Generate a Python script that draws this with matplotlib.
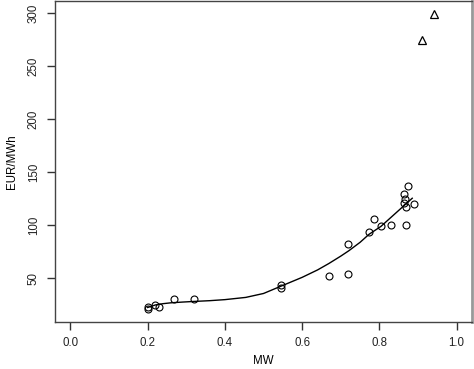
import matplotlib
matplotlib.use('Agg')
import matplotlib.pyplot as plt

plt.rcParams.update({
    'font.family': ['Liberation Sans', 'DejaVu Sans'],
    'font.size': 8.3,
})

# observed points (circles)
mw_obs = [0.200, 0.200, 0.219, 0.229, 0.267, 0.319, 0.544, 0.544,
          0.669, 0.718, 0.718, 0.773, 0.787, 0.804, 0.831, 0.868,
          0.869, 0.864, 0.866, 0.864, 0.874, 0.889]
eur_obs = [21.1, 22.8, 24.9, 23.0, 30.6, 30.6, 43.6, 40.8,
           52.2, 54.5, 82.1, 94.1, 106.0, 99.1, 100.0, 100.0,
           117.0, 120.8, 124.5, 129.6, 136.8, 120.2]

# outliers (triangles)
mw_out = [0.909, 0.941]
eur_out = [274.2, 299.4]

# smoothed fit
mw_fit = [0.200, 0.210, 0.220, 0.240, 0.260, 0.290, 0.320, 0.360, 0.400,
          0.454, 0.500, 0.544, 0.600, 0.640, 0.669, 0.700, 0.721, 0.750,
          0.773, 0.804, 0.830, 0.859, 0.885]
eur_fit = [22.6, 23.8, 25.0, 26.2, 27.0, 27.7, 28.3, 29.0, 30.0,
           32.1, 35.8, 42.5, 51.0, 58.0, 64.0, 71.0, 76.1, 84.0,
           91.5, 99.0, 107.5, 117.0, 125.5]

fig = plt.figure(figsize=(4.74, 3.69), dpi=100)
ax = fig.add_axes([0.116, 0.127, 0.880, 0.870])

ax.plot(mw_fit, eur_fit, color='black', lw=1.0)
ax.plot(mw_obs, eur_obs, linestyle='none', marker='o', ms=5,
        mfc='none', mec='black', mew=0.8)
ax.plot(mw_out, eur_out, linestyle='none', marker='^', ms=6,
        mfc='none', mec='black', mew=0.9)

ax.set_xlim(-0.04, 1.04)
ax.set_ylim(8.8, 311.2)
ax.set_xticks([0.0, 0.2, 0.4, 0.6, 0.8, 1.0])
ax.set_xticklabels(['0.0', '0.2', '0.4', '0.6', '0.8', '1.0'])
ax.set_yticks([50, 100, 150, 200, 250, 300])
ax.set_yticklabels(['50', '100', '150', '200', '250', '300'],
                   rotation=90, va='center')

ax.tick_params(direction='out', length=6, width=1, color='#333333',
               labelcolor='#222222', pad=5)
for s in ax.spines.values():
    s.set_color('#444444')
    s.set_linewidth(1.0)
ax.spines['right'].set_color('#999999')
ax.spines['right'].set_linewidth(2.0)

ax.set_xlabel('MW', labelpad=4)
ax.set_ylabel('EUR/MWh', labelpad=7)

fig.savefig('out.png', dpi=100, facecolor='white')
